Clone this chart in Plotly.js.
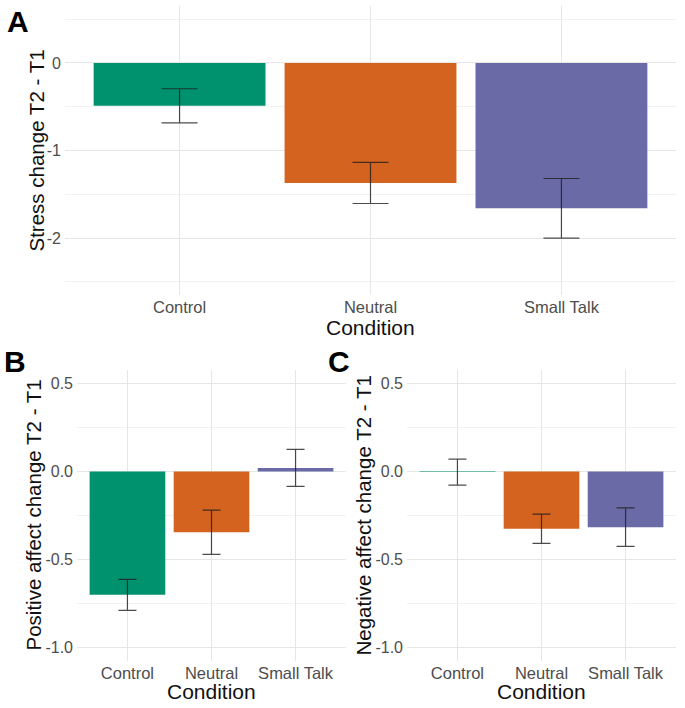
<!DOCTYPE html>
<html>
<head>
<meta charset="utf-8">
<script src="https://cdn.plot.ly/plotly-3.0.1.min.js"></script>
<style>html,body{margin:0;padding:0;background:#fff;}#chart{width:685px;height:708px;}</style>
</head>
<body>
<div id="chart"></div>
<script>
// ---- data ----
const categories = ['Control', 'Neutral', 'Small Talk'];
const stressMean = [-0.49, -1.37, -1.66];
const stressErr  = [0.195, 0.235, 0.34];
const posMean = [-0.70, -0.345, 0.02];
const posErr  = [0.088, 0.125, 0.105];
const negMean = [-0.004, -0.325, -0.316];
const negErr  = [0.074, 0.083, 0.109];
const barColors = ['#00916E', '#D4631F', '#6A6AA7'];
const stressTickVals = [0, -1, -2];
const stressTickText = ['0', '-1', '-2'];
const affectTickVals = [0.5, 0, -0.5, -1];
const affectTickText = ['0.5', '0.0', '-0.5', '-1.0'];
const panelLabels = ['A', 'B', 'C'];
const xTitle = 'Condition';
const yTitles = ['Stress change T2 - T1', 'Positive affect change T2 - T1', 'Negative affect change T2 - T1'];

// ---- layout helpers ----
const W = 685, H = 708;
const px = v => v / W;
const py = v => 1 - v / H;
const FONT = '"Liberation Sans", Arial, Helvetica, sans-serif';
const gridMajor = '#E6E6E6';
const gridMinor = '#F2F2F2';
const xTickFont = {family: FONT, size: 16.5, color: '#4D4D4D'};
const yTickFont = {family: FONT, size: 16, color: '#4D4D4D'};
const errColor = 'rgba(30,30,30,0.8)';

function barTrace(y, err, xa, ya, capHalf) {
  return {
    type: 'bar', x: categories, y: y, xaxis: xa, yaxis: ya,
    width: 0.9,
    marker: {color: barColors, line: {width: 0}},
    error_y: {type: 'data', array: err, visible: true, color: errColor, thickness: 1.2, width: capHalf},
    hoverinfo: 'x+y', showlegend: false
  };
}

const data = [
  barTrace(stressMean, stressErr, 'x', 'y', 18),
  barTrace(posMean, posErr, 'x2', 'y2', 9),
  barTrace(negMean, negErr, 'x3', 'y3', 9)
];

function xAxis(domain, anchor) {
  return {
    domain: domain, anchor: anchor, type: 'category', range: [-0.6, 2.6],
    showgrid: true, gridcolor: gridMajor, gridwidth: 1, zeroline: false,
    showline: false, ticks: '', tickfont: xTickFont, ticklabelstandoff: 0, fixedrange: true
  };
}
function yAxis(domain, anchor, range, tv, tt, minorDtick) {
  return {
    domain: domain, anchor: anchor, range: range,
    tickmode: 'array', tickvals: tv, ticktext: tt,
    showgrid: true, gridcolor: gridMajor, gridwidth: 1, zeroline: false,
    minor: {dtick: minorDtick, tick0: 0, showgrid: true, gridcolor: gridMinor, gridwidth: 1, ticks: ''},
    showline: false, ticks: '', tickfont: yTickFont, ticklabelstandoff: 3, fixedrange: true
  };
}

// panel pixel geometry
const A = {l: 65, r: 676, t: 6, b: 295};
const B = {l: 77, r: 346, t: 370, b: 661};
const C = {l: 407, r: 676, t: 370, b: 661};

const titleFontX = {family: FONT, size: 21, color: '#111'};
const titleFontY = {family: FONT, size: 20.5, color: '#111'};
const letterFont = {family: FONT, size: 30, color: '#000'};

const layout = {
  width: W, height: H,
  margin: {l: 0, r: 0, t: 0, b: 0},
  paper_bgcolor: '#fff', plot_bgcolor: '#fff',
  font: {family: FONT},
  xaxis: xAxis([px(A.l), px(A.r)], 'y'),
  yaxis: yAxis([py(A.b), py(A.t)], 'x', [-2.65, 0.65], stressTickVals, stressTickText, 0.5),
  xaxis2: xAxis([px(B.l), px(B.r)], 'y2'),
  yaxis2: yAxis([py(B.b), py(B.t)], 'x2', [-1.075, 0.575], affectTickVals, affectTickText, 0.25),
  xaxis3: xAxis([px(C.l), px(C.r)], 'y3'),
  yaxis3: yAxis([py(C.b), py(C.t)], 'x3', [-1.075, 0.575], affectTickVals, affectTickText, 0.25),
  annotations: [
    // panel letters
    {text: '<b>' + panelLabels[0] + '</b>', x: px(18), y: py(21), xref: 'paper', yref: 'paper', xanchor: 'center', yanchor: 'middle', showarrow: false, font: letterFont},
    {text: '<b>' + panelLabels[1] + '</b>', x: px(15), y: py(361), xref: 'paper', yref: 'paper', xanchor: 'center', yanchor: 'middle', showarrow: false, font: letterFont},
    {text: '<b>' + panelLabels[2] + '</b>', x: px(339), y: py(361), xref: 'paper', yref: 'paper', xanchor: 'center', yanchor: 'middle', showarrow: false, font: letterFont},
    // x titles
    {text: xTitle, x: px((A.l + A.r) / 2), y: py(327), xref: 'paper', yref: 'paper', xanchor: 'center', yanchor: 'middle', showarrow: false, font: titleFontX},
    {text: xTitle, x: px((B.l + B.r) / 2), y: py(691), xref: 'paper', yref: 'paper', xanchor: 'center', yanchor: 'middle', showarrow: false, font: titleFontX},
    {text: xTitle, x: px((C.l + C.r) / 2), y: py(691), xref: 'paper', yref: 'paper', xanchor: 'center', yanchor: 'middle', showarrow: false, font: titleFontX},
    // y titles
    {text: yTitles[0], textangle: -90, x: px(36), y: py((A.t + A.b) / 2), xref: 'paper', yref: 'paper', xanchor: 'center', yanchor: 'middle', showarrow: false, font: titleFontY},
    {text: yTitles[1], textangle: -90, x: px(33), y: py((B.t + B.b) / 2), xref: 'paper', yref: 'paper', xanchor: 'center', yanchor: 'middle', showarrow: false, font: titleFontY},
    {text: yTitles[2], textangle: -90, x: px(363), y: py((C.t + C.b) / 2), xref: 'paper', yref: 'paper', xanchor: 'center', yanchor: 'middle', showarrow: false, font: titleFontY}
  ]
};

Plotly.newPlot('chart', data, layout, {displayModeBar: false, staticPlot: true});
</script>
</body>
</html>
